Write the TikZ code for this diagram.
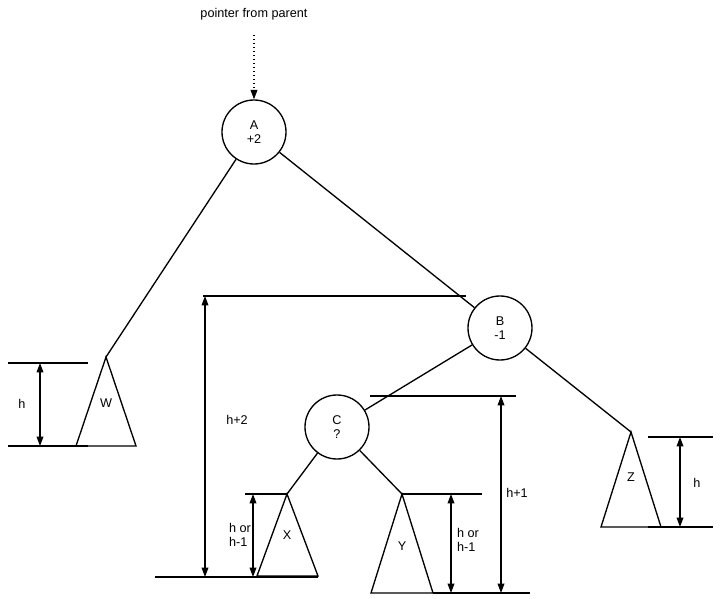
\documentclass[tikz,border=0pt]{standalone}
\usepackage{fontspec}
\setmainfont{Liberation Sans}
\usetikzlibrary{arrows.meta}
\begin{document}
\begin{tikzpicture}[x=0.75pt,y=-0.75pt,line width=1pt,
  nd/.style={draw,circle,minimum size=64*0.75pt,inner sep=0pt,align=center,font=\fontsize{9.5}{11}\selectfont},
  lbl/.style={font=\fontsize{9.5}{11}\selectfont,align=left},
  dim/.style={{Triangle[length=7pt,width=5pt]}-{Triangle[length=7pt,width=5pt]}},
  tri/.style={draw}]
\useasboundingbox (0,0) rectangle (722,599);
\node[lbl] (ptr) at (254,14) {pointer from parent};
\node[nd] (A) at (254,132) {A\\+2};
\node[nd] (B) at (500,328) {B\\-1};
\node[nd] (C) at (337,427) {C\\?};
\coordinate (ps) at (254,35);
\draw[dotted,-{Triangle[length=7pt,width=5pt]}] (ps) -- (A.north);
% triangles
\coordinate (Wt) at (106,357); \draw (Wt) -- (76,446) -- (136,446) -- cycle; \node[lbl] (W) at (106,403) {W};
\coordinate (Zt) at (631,432); \draw (Zt) -- (601,527) -- (661,527) -- cycle; \node[lbl] (Z) at (631,477) {Z};
\coordinate (Xt) at (287,494); \draw (Xt) -- (257,576) -- (318,576) -- cycle; \node[lbl] (X) at (287,535) {X};
\coordinate (Yt) at (402,494); \draw (Yt) -- (371,593) -- (433,593) -- cycle; \node[lbl] (Y) at (402,546) {Y};
\draw (A) -- (Wt);
\draw (A) -- (B);
\draw (B) -- (C);
\draw (B) -- (Zt);
\draw (C) -- (Xt);
\draw (C) -- (Yt);
% W height
\draw (8,363) -- (88,363); \draw (8,446) -- (88,446);
\draw[dim] (40,363) -- (40,446); \node[lbl] at (22,404) {h};
% h+2
\draw (203,296) -- (466,296); \draw (155,577) -- (318,577);
\draw[dim] (205,296) -- (205,577); \node[lbl] at (237,420) {h+2};
% h+1
\draw (370,396) -- (516,396); \draw (433,593) -- (530,593);
\draw[dim] (501,396) -- (501,593); \node[lbl] at (517,493) {h+1};
% Z height
\draw (648,437) -- (713,437); \draw (648,527) -- (713,527);
\draw[dim] (680,437) -- (680,527); \node[lbl] at (697,483) {h};
% X height
\draw (245,494) -- (287,494);
\draw[dim] (253,494) -- (253,577); \node[lbl] at (240,535) {h or\\h-1};
% Y height
\draw (402,494) -- (482,494);
\draw[dim] (451,494) -- (451,593); \node[lbl] at (468,540) {h or\\h-1};
\end{tikzpicture}
\end{document}
